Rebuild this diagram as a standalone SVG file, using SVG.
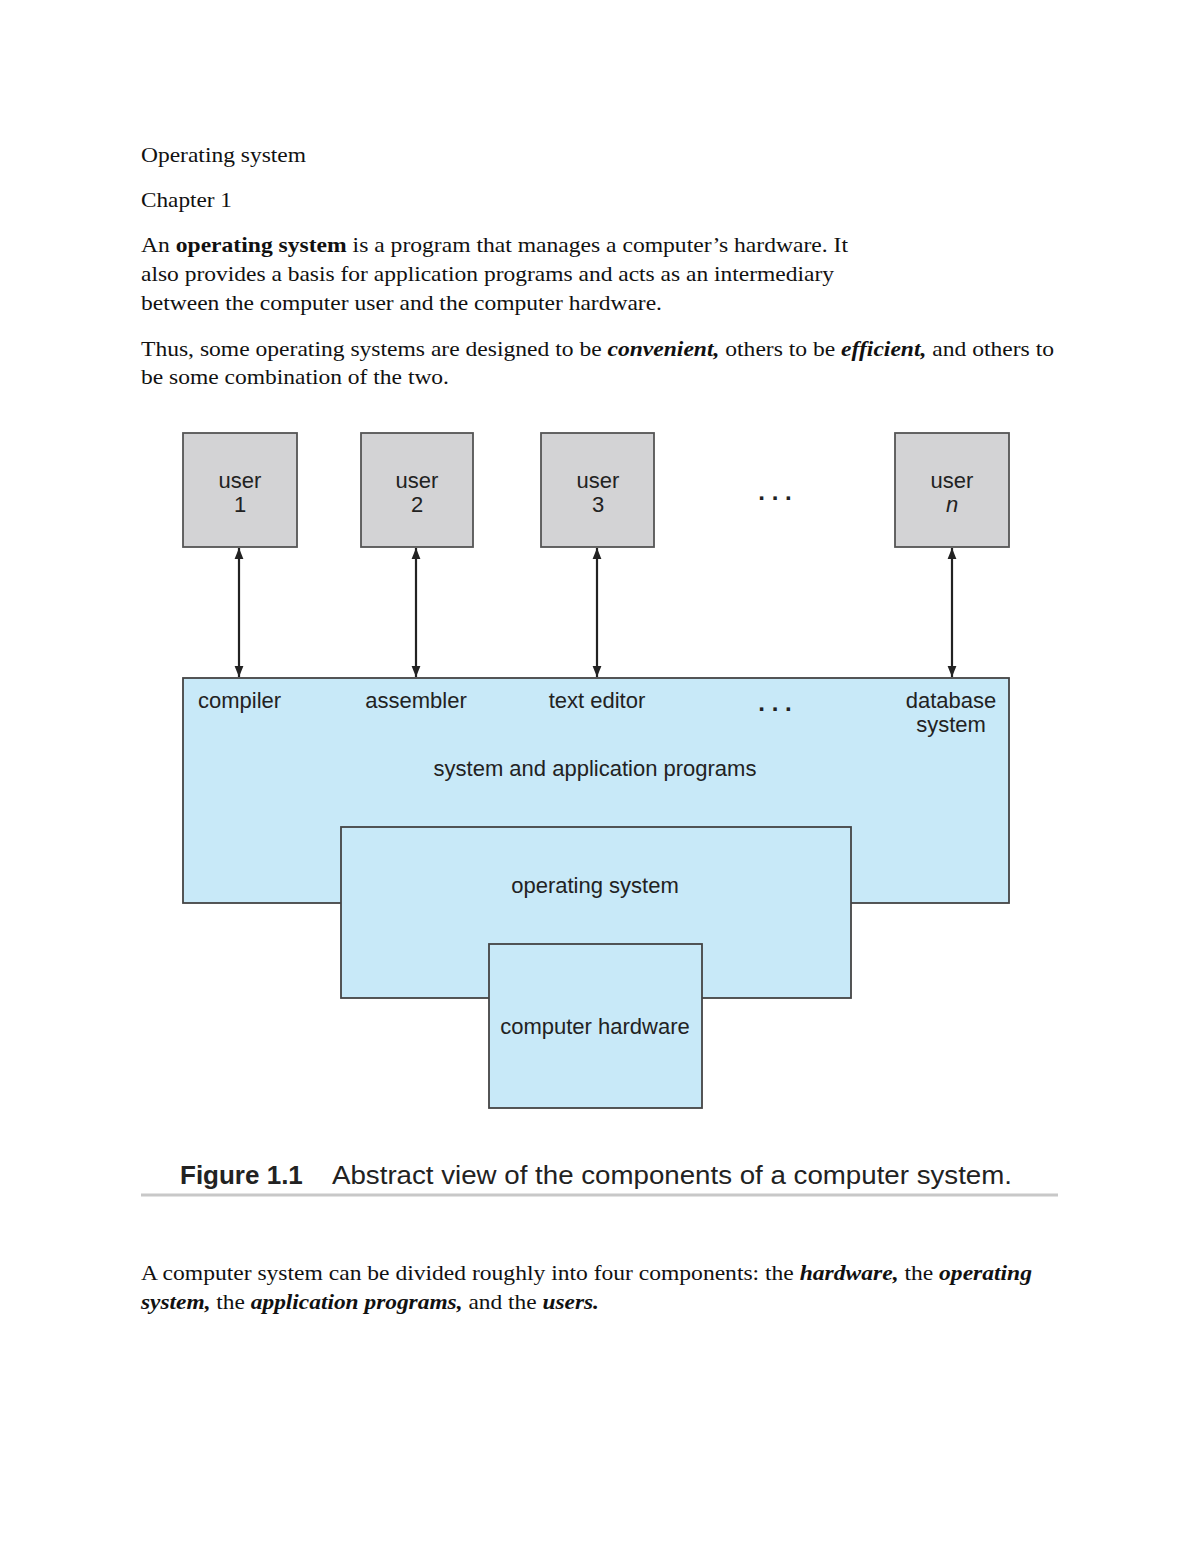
<svg xmlns="http://www.w3.org/2000/svg" width="1200" height="1553" viewBox="0 0 1200 1553">
<defs>
<marker id="ah" viewBox="0 0 10 10" refX="10" refY="5" markerWidth="11" markerHeight="11" markerUnits="userSpaceOnUse" orient="auto-start-reverse">
<path d="M0,1 L10,5 L0,9 z" fill="#222"/>
</marker>
<style>
.body{font-family:"Liberation Serif","Times New Roman",serif;font-size:21px;fill:#111}
.b{font-weight:bold}
.bi{font-weight:bold;font-style:italic}
.lbl{font-family:"Liberation Sans",Arial,sans-serif;font-size:22px;fill:#222}
.user{fill:#d3d3d5;stroke:#555;stroke-width:1.8}
.blue{fill:#c8e9f8;stroke:#444;stroke-width:1.8}
.dots{font-family:"Liberation Sans",Arial,sans-serif;font-size:24px;font-weight:bold;fill:#222}
.conn{stroke:#222;stroke-width:2.2;fill:none;marker-start:url(#ah);marker-end:url(#ah)}
</style>
</defs>
<rect width="1200" height="1553" fill="#fff"/>

<g id="text-top">
<text class="body" x="141" y="162" textLength="165" lengthAdjust="spacingAndGlyphs">Operating system</text>
<text class="body" x="141" y="207" textLength="91" lengthAdjust="spacingAndGlyphs">Chapter 1</text>
<text class="body" x="141" y="252" textLength="707" lengthAdjust="spacingAndGlyphs">An <tspan class="b">operating system</tspan> is a program that manages a computer’s hardware. It</text>
<text class="body" x="141" y="281" textLength="693" lengthAdjust="spacingAndGlyphs">also provides a basis for application programs and acts as an intermediary</text>
<text class="body" x="141" y="310" textLength="521" lengthAdjust="spacingAndGlyphs">between the computer user and the computer hardware.</text>
<text class="body" x="141" y="356" textLength="913" lengthAdjust="spacingAndGlyphs">Thus, some operating systems are designed to be <tspan class="bi">convenient,</tspan> others to be <tspan class="bi">efficient,</tspan> and others to</text>
<text class="body" x="141" y="384" textLength="308" lengthAdjust="spacingAndGlyphs">be some combination of the two.</text>
</g>

<g id="user1">
<rect class="user" x="183" y="433" width="114" height="114"/>
<text class="lbl" x="240" y="488" text-anchor="middle">user</text>
<text class="lbl" x="240" y="512" text-anchor="middle">1</text>
</g>
<g id="user2">
<rect class="user" x="361" y="433" width="112" height="114"/>
<text class="lbl" x="417" y="488" text-anchor="middle">user</text>
<text class="lbl" x="417" y="512" text-anchor="middle">2</text>
</g>
<g id="user3">
<rect class="user" x="541" y="433" width="113" height="114"/>
<text class="lbl" x="598" y="488" text-anchor="middle">user</text>
<text class="lbl" x="598" y="512" text-anchor="middle">3</text>
</g>
<g id="dots-top">
<text class="dots" x="775" y="500" text-anchor="middle">. . .</text>
</g>
<g id="usern">
<rect class="user" x="895" y="433" width="114" height="114"/>
<text class="lbl" x="952" y="488" text-anchor="middle">user</text>
<text class="lbl" x="952" y="512" text-anchor="middle" font-style="italic">n</text>
</g>

<g id="apps">
<rect class="blue" x="183" y="678" width="826" height="225"/>
<text class="lbl" x="198" y="708">compiler</text>
<text class="lbl" x="416" y="708" text-anchor="middle">assembler</text>
<text class="lbl" x="597" y="708" text-anchor="middle">text editor</text>
<text class="dots" x="775" y="711" text-anchor="middle">. . .</text>
<text class="lbl" x="951" y="708" text-anchor="middle">database</text>
<text class="lbl" x="951" y="732" text-anchor="middle">system</text>
<text class="lbl" x="595" y="776" text-anchor="middle">system and application programs</text>
</g>

<g id="os">
<rect class="blue" x="341" y="827" width="510" height="171"/>
<text class="lbl" x="595" y="893" text-anchor="middle">operating system</text>
</g>

<g id="hardware">
<rect class="blue" x="489" y="944" width="213" height="164"/>
<text class="lbl" x="595" y="1034" text-anchor="middle">computer hardware</text>
</g>

<g id="connectors">
<line class="conn" x1="239" y1="548" x2="239" y2="677"/>
<line class="conn" x1="416" y1="548" x2="416" y2="677"/>
<line class="conn" x1="597" y1="548" x2="597" y2="677"/>
<line class="conn" x1="952" y1="548" x2="952" y2="677"/>
</g>

<g id="caption">
<text x="180" y="1184" font-family="Liberation Sans, Arial, sans-serif" font-size="26" font-weight="bold" fill="#222">Figure 1.1</text>
<text x="332" y="1184" font-family="Liberation Sans, Arial, sans-serif" font-size="26" fill="#222" textLength="680" lengthAdjust="spacingAndGlyphs">Abstract view of the components of a computer system.</text>
<line x1="141" y1="1195" x2="1058" y2="1195" stroke="#c8c8c8" stroke-width="3"/>
</g>

<g id="text-bottom">
<text class="body" x="141" y="1280" textLength="891" lengthAdjust="spacingAndGlyphs">A computer system can be divided roughly into four components: the <tspan class="bi">hardware,</tspan> the <tspan class="bi">operating</tspan></text>
<text class="body" x="141" y="1309" textLength="458" lengthAdjust="spacingAndGlyphs"><tspan class="bi">system,</tspan> the <tspan class="bi">application programs,</tspan> and the <tspan class="bi">users.</tspan></text>
</g>
</svg>
